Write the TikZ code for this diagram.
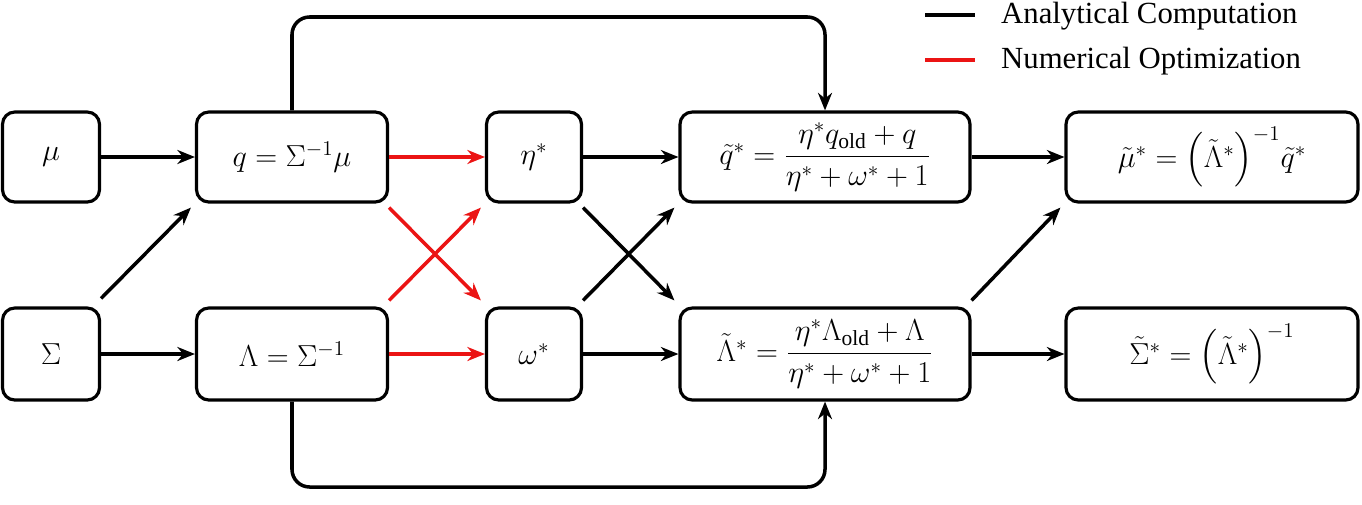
\documentclass[tikz,border=0pt]{standalone}
\usepackage{fontspec}
\setmainfont{Liberation Serif}
\usepackage{amsmath}
\usetikzlibrary{arrows.meta}
\definecolor{myred}{RGB}{235,20,20}
\begin{document}
\begin{tikzpicture}[x=0.02cm,y=-0.02cm,
  box/.style={draw,line width=1.8pt,rounded corners=7pt,inner sep=0pt,font=\fontsize{17.5}{21}\selectfont},
  ar/.style={line width=2pt,-{Stealth[length=10pt,width=8pt]}},
  rd/.style={draw=myred}]
\useasboundingbox (0,0) rectangle (1362,504);
\newcommand{\bx}[5]{\node[box,minimum width=#3*0.02cm,minimum height=#4*0.02cm] (#1) at (#2) {#5};}
\bx{mu}{51,157}{97}{90}{$\mu$}
\bx{q}{292,157}{191}{90}{$q=\Sigma^{-1}\mu$}
\bx{eta}{534,157}{95}{90}{$\eta^*$}
\bx{qt}{825,157}{290}{90}{$\tilde q^*=\dfrac{\eta^* q_{\mathrm{old}}+q}{\eta^*+\omega^*+1}$}
\bx{mut}{1212,157}{292}{90}{$\tilde\mu^*=\Big(\tilde\Lambda^*\Big)^{-1}\tilde q^*$}
\bx{S}{51,354}{97}{92}{$\Sigma$}
\bx{L}{292,354}{191}{92}{$\Lambda=\Sigma^{-1}$}
\bx{om}{534,354}{95}{92}{$\omega^*$}
\bx{Lt}{825,354}{290}{92}{$\tilde\Lambda^*=\dfrac{\eta^* \Lambda_{\mathrm{old}}+\Lambda}{\eta^*+\omega^*+1}$}
\bx{St}{1212,354}{292}{92}{$\tilde\Sigma^*=\Big(\tilde\Lambda^*\Big)^{-1}$}
\draw[ar] (mu) -- (q);
\draw[ar] (S) -- (L);
\draw[ar] (S.north east) ++(0,-8) -- ([shift={(-4,4)}]q.south west);
\draw[ar,rd] (q) -- (eta);
\draw[ar,rd] (L) -- (om);
\draw[ar,rd] ([shift={(0,4)}]q.south east) -- ([shift={(-4,-6)}]om.north west);
\draw[ar,rd] ([shift={(0,-6)}]L.north east) -- ([shift={(-4,4)}]eta.south west);
\draw[ar] (eta) -- (qt);
\draw[ar] (om) -- (Lt);
\draw[ar] ([shift={(0,4)}]eta.south east) -- ([shift={(-4,-6)}]Lt.north west);
\draw[ar] ([shift={(0,-6)}]om.north east) -- ([shift={(-4,4)}]qt.south west);
\draw[ar] (qt) -- (mut);
\draw[ar] (Lt) -- (St);
\draw[ar] ([shift={(0,-6)}]Lt.north east) -- ([shift={(-4,4)}]mut.south west);
\draw[ar,rounded corners=10pt] (q.north) -- (292,17) -- (825,17) -- (qt.north);
\draw[ar,rounded corners=10pt] (L.south) -- (292,487) -- (825,487) -- (Lt.south);
\coordinate (la1) at (925,15); \coordinate (la2) at (975,15);
\coordinate (lb1) at (925,60); \coordinate (lb2) at (975,60);
\draw[line width=2pt] (la1) -- (la2);
\draw[line width=2pt,myred] (lb1) -- (lb2);
\node[anchor=west,font=\fontsize{17.5}{21}\selectfont] (t1) at (995,16) {Analytical Computation};
\node[anchor=west,font=\fontsize{17.5}{21}\selectfont] (t2) at (995,61) {Numerical Optimization};
\end{tikzpicture}
\end{document}
